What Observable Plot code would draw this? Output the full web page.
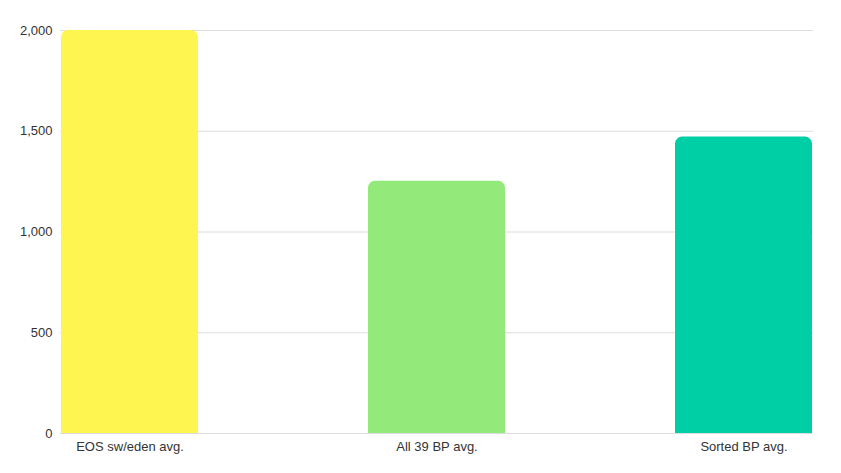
<!DOCTYPE html>
<html>
<head>
<meta charset="utf-8">
<script src="https://cdn.jsdelivr.net/npm/d3@7"></script>
<script src="https://cdn.jsdelivr.net/npm/@observablehq/plot@0.6"></script>
<style>
  html, body { margin: 0; padding: 0; background: #fff; }
  svg { font-family: "Liberation Sans", Arial, sans-serif; }
</style>
</head>
<body>
<div id="chart"></div>
<script>
const categories = ["EOS sw/eden avg.", "All 39 BP avg.", "Sorted BP avg."];
const values = [2000, 1252, 1471];
const colors = ["#FFF551", "#93EA7B", "#00CFA5"];
const yTicks = [0, 500, 1000, 1500, 2000];

const data = categories.map((c, i) => ({category: c, value: values[i], color: colors[i]}));

const chart = Plot.plot({
  width: 841,
  height: 473,
  marginLeft: 60,
  marginRight: 28,
  marginTop: 30,
  marginBottom: 40,
  style: {fontFamily: "Liberation Sans, Arial, sans-serif", fontSize: "13px", color: "#333"},
  x: {domain: categories, paddingInner: 0.555, paddingOuter: 0, label: null, tickSize: 0, tickPadding: 8},
  y: {domain: [0, 2000], ticks: yTicks, tickFormat: d3.format(","), label: null, tickSize: 0, tickPadding: 8},
  color: {type: "identity"},
  marks: [
    Plot.ruleY(yTicks, {stroke: "#dcdcdc", strokeWidth: 1}),
    Plot.barY(data, {x: "category", y: "value", fill: "color", inset: 0, ry1: 7, rx1y1: 7, rx2y1: 7})
  ]
});
document.getElementById("chart").appendChild(chart);
</script>
</body>
</html>
